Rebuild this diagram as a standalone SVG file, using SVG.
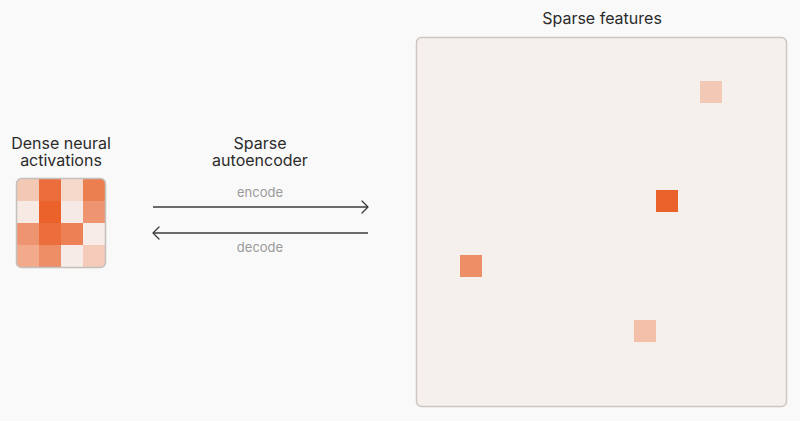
<svg xmlns="http://www.w3.org/2000/svg" width="800" height="421" viewBox="0 0 800 421">
  <defs>
    <style>
      .title { font-family: Inter, "Liberation Sans", sans-serif; font-size: 16px; fill: #2b2b2b; text-anchor: middle; }
      .label { font-family: Inter, "Liberation Sans", sans-serif; font-size: 13px; fill: #9a9a9a; text-anchor: middle; }
      .conn { stroke: #3a3a3a; stroke-width: 1.3; fill: none; }
      .head { stroke: #3a3a3a; stroke-width: 1.3; fill: none; stroke-linecap: round; stroke-linejoin: round; }
    </style>
    <clipPath id="gridclip"><rect x="16.5" y="178.5" width="89" height="89" rx="5"/></clipPath>
  </defs>
  <rect x="0" y="0" width="800" height="421" fill="#f9f9f9"/>

  <g id="dense">
    <text class="title" x="61" y="149">Dense neural</text>
    <text class="title" x="61" y="165.5">activations</text>
    <g clip-path="url(#gridclip)">
      <rect x="16" y="178" width="23" height="23" fill="#f3c9b5"/>
      <rect x="39" y="178" width="22" height="23" fill="#ec6d3c"/>
      <rect x="61" y="178" width="22" height="23" fill="#f7d9cc"/>
      <rect x="83" y="178" width="23" height="23" fill="#ec7f50"/>
      <rect x="16" y="201" width="23" height="22" fill="#f7e9e4"/>
      <rect x="39" y="201" width="22" height="22" fill="#eb622a"/>
      <rect x="61" y="201" width="22" height="22" fill="#f6eae6"/>
      <rect x="83" y="201" width="23" height="22" fill="#ee9470"/>
      <rect x="16" y="223" width="23" height="22" fill="#ef9471"/>
      <rect x="39" y="223" width="22" height="22" fill="#ec6e3d"/>
      <rect x="61" y="223" width="22" height="22" fill="#ed8055"/>
      <rect x="83" y="223" width="23" height="22" fill="#f7ece8"/>
      <rect x="16" y="245" width="23" height="23" fill="#f2aa8b"/>
      <rect x="39" y="245" width="22" height="23" fill="#ee8e67"/>
      <rect x="61" y="245" width="22" height="23" fill="#f7ebe7"/>
      <rect x="83" y="245" width="23" height="23" fill="#f4cbb8"/>
    </g>
    <rect x="16.5" y="178.5" width="89" height="89" rx="5" fill="none" stroke="#c4c0bd" stroke-width="1.5"/>
  </g>

  <g id="autoencoder">
    <text class="title" x="260" y="149">Sparse</text>
    <text class="title" x="260" y="165.5">autoencoder</text>
  </g>

  <g id="connectors">
    <line class="conn" x1="153" y1="207" x2="368" y2="207"/>
    <polyline class="head" points="362,201 368,207 362,213"/>
    <text class="label" x="260" y="197">encode</text>
    <line class="conn" x1="153" y1="233" x2="368" y2="233"/>
    <polyline class="head" points="159,227 153,233 159,239"/>
    <text class="label" x="260" y="252">decode</text>
  </g>

  <g id="sparse">
    <text class="title" x="602" y="24">Sparse features</text>
    <rect x="416.5" y="37.5" width="370" height="369" rx="5" fill="#f6f0ed" stroke="#cdc6c2" stroke-width="1.5"/>
    <rect x="700" y="81" width="22" height="22" fill="#f3c9b5"/>
    <rect x="656" y="190" width="22" height="22" fill="#eb612a"/>
    <rect x="460" y="255" width="22" height="22" fill="#ed8e66"/>
    <rect x="634" y="320" width="22" height="22" fill="#f4c0aa"/>
  </g>
</svg>
